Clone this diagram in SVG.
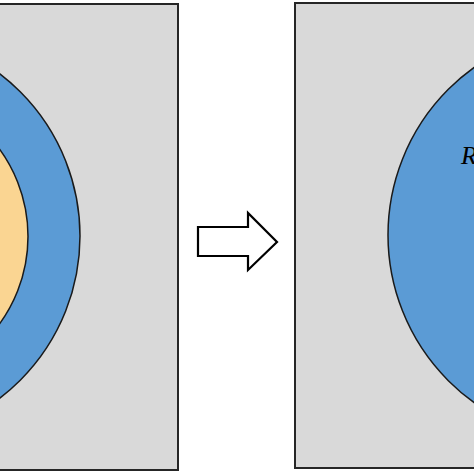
<svg xmlns="http://www.w3.org/2000/svg" width="474" height="474" viewBox="0 0 474 474">
<style>
.panel{fill:#d9d9d9;stroke:#262626;stroke-width:2}
.blue{fill:#5b9bd5;stroke:#1a1a1a;stroke-width:1.5}
.yellow{fill:#fad592;stroke:#1a1a1a;stroke-width:1.5}
.arrow{fill:#ffffff;stroke:#000;stroke-width:2.2;stroke-linejoin:miter}
.lbl{font-family:"Liberation Serif",serif;font-style:italic;font-size:26px;fill:#000}
</style>
<rect width="474" height="474" fill="#ffffff"/>
<g id="left-panel">
<rect class="panel" x="-10" y="4" width="188" height="466"/>
<circle class="blue" cx="-124" cy="236" r="204"/>
<circle class="yellow" cx="-120" cy="236.5" r="148"/>
</g>
<g id="connectors">
<path class="arrow" d="M198,227 L248,227 L248,213 L277,242 L248,270 L248,256 L198,256 Z"/>
</g>
<g id="right-panel">
<rect class="panel" x="295" y="3" width="190" height="465"/>
<circle class="blue" cx="594" cy="235" r="206"/>
<text class="lbl" x="461" y="164">R</text>
</g>
</svg>
